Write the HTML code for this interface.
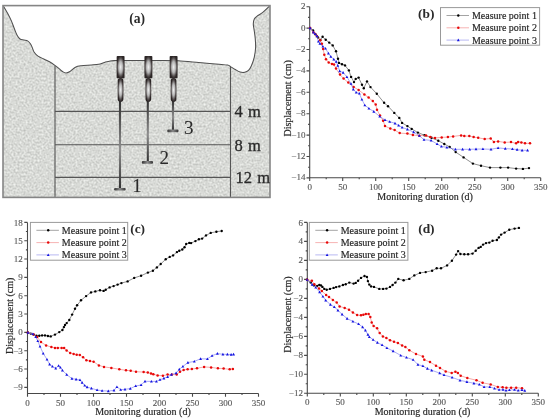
<!DOCTYPE html>
<html><head><meta charset="utf-8"><title>Figure</title>
<style>html,body{margin:0;padding:0;background:#fff;width:550px;height:420px;overflow:hidden}svg{display:block;filter:blur(0.35px)}</style></head>
<body><svg width="550" height="420" viewBox="0 0 550 420" font-family="Liberation Serif, serif">
<defs><radialGradient id="hd" cx="50%" cy="50%" r="50%"><stop offset="0" stop-color="#f0f0f0"/><stop offset="0.5" stop-color="#b4b4b4"/><stop offset="0.82" stop-color="#524c4c"/><stop offset="1" stop-color="#2c2626"/></radialGradient><linearGradient id="rod" x1="0" y1="0" x2="0" y2="1"><stop offset="0" stop-color="#303030"/><stop offset="0.2" stop-color="#505050"/><stop offset="0.55" stop-color="#8e8e8e"/><stop offset="0.88" stop-color="#484848"/><stop offset="1" stop-color="#303030"/></linearGradient><linearGradient id="tb" x1="0" y1="0" x2="1" y2="0"><stop offset="0" stop-color="#333"/><stop offset="0.5" stop-color="#8a8a8a"/><stop offset="1" stop-color="#333"/></linearGradient><filter id="tex" x="0" y="0" width="100%" height="100%" color-interpolation-filters="sRGB"><feTurbulence type="fractalNoise" baseFrequency="0.5" numOctaves="2" seed="7"/><feColorMatrix type="matrix" values="0.3 0 0 0 0.697  0.3 0 0 0 0.704  0.3 0 0 0 0.690  0 0 0 0 1"/></filter><clipPath id="gclip"><path d="M3.4,6.1 C4.1,7.3 6.27,10.83 7.6,13.3 C8.93,15.77 10.28,18.37 11.4,20.9 C12.52,23.43 13.35,26.12 14.3,28.5 C15.25,30.88 16.15,33.45 17.1,35.2 C18.05,36.95 18.88,38.2 20,39 C21.12,39.8 22.53,39.68 23.8,40 C25.07,40.32 26.5,40.27 27.6,40.9 C28.7,41.53 29.62,42.68 30.4,43.8 C31.18,44.92 31.67,46.18 32.3,47.6 C32.93,49.02 33.25,50.88 34.2,52.3 C35.15,53.72 36.4,54.98 38,56.1 C39.6,57.22 41.88,58.05 43.8,59 C45.72,59.95 47.6,60.7 49.5,61.8 C51.4,62.9 53.55,64.42 55.2,65.6 C56.85,66.78 58.18,67.92 59.4,68.9 C60.62,69.88 61.42,70.82 62.5,71.5 C63.58,72.18 64.73,72.95 65.9,73 C67.07,73.05 67.92,72.77 69.5,71.8 C71.08,70.83 73.45,68.22 75.4,67.2 C77.35,66.18 78.53,66.07 81.2,65.7 C83.87,65.33 88.5,65.23 91.4,65 C94.3,64.77 96.42,64.73 98.6,64.3 C100.78,63.87 102.55,62.97 104.5,62.4 C106.45,61.83 108.38,61.2 110.3,60.9 C112.22,60.6 111.88,60.67 116,60.6 C120.12,60.53 127.6,60.53 135,60.5 C142.4,60.47 153.18,60.37 160.4,60.4 C167.62,60.43 171.93,60.35 178.3,60.7 C184.67,61.05 193.4,62.05 198.6,62.5 C203.8,62.95 206.1,63.12 209.5,63.4 C212.9,63.68 215.98,63.92 219,64.2 C222.02,64.48 225.68,64.7 227.6,65.1 C229.52,65.5 229.23,65.87 230.5,66.6 C231.77,67.33 233.62,68.6 235.2,69.5 C236.78,70.4 238.42,71.53 240,72 C241.58,72.47 243.28,72.57 244.7,72.3 C246.12,72.03 247.38,71.5 248.5,70.4 C249.62,69.3 250.43,67.92 251.4,65.7 C252.37,63.48 253.6,60.12 254.3,57.1 C255,54.08 255.45,50.77 255.6,47.6 C255.75,44.43 255.48,41.27 255.2,38.1 C254.92,34.93 254.22,30.98 253.9,28.6 C253.58,26.22 253.23,25.4 253.3,23.8 C253.37,22.2 253.67,20.27 254.3,19 C254.93,17.73 255.68,17.3 257.1,16.2 C258.52,15.1 260.73,14.08 262.8,12.4 C264.87,10.72 268.38,7.15 269.5,6.1 L270,6 L270,197 L3,197 Z"/></clipPath></defs>
<path d="M3.4,6.1 C4.1,7.3 6.27,10.83 7.6,13.3 C8.93,15.77 10.28,18.37 11.4,20.9 C12.52,23.43 13.35,26.12 14.3,28.5 C15.25,30.88 16.15,33.45 17.1,35.2 C18.05,36.95 18.88,38.2 20,39 C21.12,39.8 22.53,39.68 23.8,40 C25.07,40.32 26.5,40.27 27.6,40.9 C28.7,41.53 29.62,42.68 30.4,43.8 C31.18,44.92 31.67,46.18 32.3,47.6 C32.93,49.02 33.25,50.88 34.2,52.3 C35.15,53.72 36.4,54.98 38,56.1 C39.6,57.22 41.88,58.05 43.8,59 C45.72,59.95 47.6,60.7 49.5,61.8 C51.4,62.9 53.55,64.42 55.2,65.6 C56.85,66.78 58.18,67.92 59.4,68.9 C60.62,69.88 61.42,70.82 62.5,71.5 C63.58,72.18 64.73,72.95 65.9,73 C67.07,73.05 67.92,72.77 69.5,71.8 C71.08,70.83 73.45,68.22 75.4,67.2 C77.35,66.18 78.53,66.07 81.2,65.7 C83.87,65.33 88.5,65.23 91.4,65 C94.3,64.77 96.42,64.73 98.6,64.3 C100.78,63.87 102.55,62.97 104.5,62.4 C106.45,61.83 108.38,61.2 110.3,60.9 C112.22,60.6 111.88,60.67 116,60.6 C120.12,60.53 127.6,60.53 135,60.5 C142.4,60.47 153.18,60.37 160.4,60.4 C167.62,60.43 171.93,60.35 178.3,60.7 C184.67,61.05 193.4,62.05 198.6,62.5 C203.8,62.95 206.1,63.12 209.5,63.4 C212.9,63.68 215.98,63.92 219,64.2 C222.02,64.48 225.68,64.7 227.6,65.1 C229.52,65.5 229.23,65.87 230.5,66.6 C231.77,67.33 233.62,68.6 235.2,69.5 C236.78,70.4 238.42,71.53 240,72 C241.58,72.47 243.28,72.57 244.7,72.3 C246.12,72.03 247.38,71.5 248.5,70.4 C249.62,69.3 250.43,67.92 251.4,65.7 C252.37,63.48 253.6,60.12 254.3,57.1 C255,54.08 255.45,50.77 255.6,47.6 C255.75,44.43 255.48,41.27 255.2,38.1 C254.92,34.93 254.22,30.98 253.9,28.6 C253.58,26.22 253.23,25.4 253.3,23.8 C253.37,22.2 253.67,20.27 254.3,19 C254.93,17.73 255.68,17.3 257.1,16.2 C258.52,15.1 260.73,14.08 262.8,12.4 C264.87,10.72 268.38,7.15 269.5,6.1 L270,6 L270,197 L3,197 Z" fill="#d4d4d2"/>
<rect x="3" y="5" width="268" height="193" filter="url(#tex)" clip-path="url(#gclip)"/>
<g stroke="#555" stroke-width="1.1" fill="none">
<path d="M55,65.8 V197 M230.5,66.6 V197"/>
<path d="M55,111.4 H230.5 M55,144.8 H230.5 M55,177.4 H230.5"/>
</g>
<path d="M3.4,6.1 C4.1,7.3 6.27,10.83 7.6,13.3 C8.93,15.77 10.28,18.37 11.4,20.9 C12.52,23.43 13.35,26.12 14.3,28.5 C15.25,30.88 16.15,33.45 17.1,35.2 C18.05,36.95 18.88,38.2 20,39 C21.12,39.8 22.53,39.68 23.8,40 C25.07,40.32 26.5,40.27 27.6,40.9 C28.7,41.53 29.62,42.68 30.4,43.8 C31.18,44.92 31.67,46.18 32.3,47.6 C32.93,49.02 33.25,50.88 34.2,52.3 C35.15,53.72 36.4,54.98 38,56.1 C39.6,57.22 41.88,58.05 43.8,59 C45.72,59.95 47.6,60.7 49.5,61.8 C51.4,62.9 53.55,64.42 55.2,65.6 C56.85,66.78 58.18,67.92 59.4,68.9 C60.62,69.88 61.42,70.82 62.5,71.5 C63.58,72.18 64.73,72.95 65.9,73 C67.07,73.05 67.92,72.77 69.5,71.8 C71.08,70.83 73.45,68.22 75.4,67.2 C77.35,66.18 78.53,66.07 81.2,65.7 C83.87,65.33 88.5,65.23 91.4,65 C94.3,64.77 96.42,64.73 98.6,64.3 C100.78,63.87 102.55,62.97 104.5,62.4 C106.45,61.83 108.38,61.2 110.3,60.9 C112.22,60.6 111.88,60.67 116,60.6 C120.12,60.53 127.6,60.53 135,60.5 C142.4,60.47 153.18,60.37 160.4,60.4 C167.62,60.43 171.93,60.35 178.3,60.7 C184.67,61.05 193.4,62.05 198.6,62.5 C203.8,62.95 206.1,63.12 209.5,63.4 C212.9,63.68 215.98,63.92 219,64.2 C222.02,64.48 225.68,64.7 227.6,65.1 C229.52,65.5 229.23,65.87 230.5,66.6 C231.77,67.33 233.62,68.6 235.2,69.5 C236.78,70.4 238.42,71.53 240,72 C241.58,72.47 243.28,72.57 244.7,72.3 C246.12,72.03 247.38,71.5 248.5,70.4 C249.62,69.3 250.43,67.92 251.4,65.7 C252.37,63.48 253.6,60.12 254.3,57.1 C255,54.08 255.45,50.77 255.6,47.6 C255.75,44.43 255.48,41.27 255.2,38.1 C254.92,34.93 254.22,30.98 253.9,28.6 C253.58,26.22 253.23,25.4 253.3,23.8 C253.37,22.2 253.67,20.27 254.3,19 C254.93,17.73 255.68,17.3 257.1,16.2 C258.52,15.1 260.73,14.08 262.8,12.4 C264.87,10.72 268.38,7.15 269.5,6.1" fill="none" stroke="#505050" stroke-width="1.05"/>
<rect x="3" y="5.6" width="267" height="191.8" fill="none" stroke="#858585" stroke-width="1.6"/>
<rect x="118.95" y="100" width="2.1" height="89.2" fill="url(#rod)"/>
<rect x="114.1" y="187.9" width="11.5" height="2.6" rx="1" fill="url(#tb)"/>
<rect x="117.7" y="78" width="5.7" height="23.7" rx="2.8" fill="url(#hd)"/>
<rect x="116.65" y="55.9" width="7.9" height="22.4" rx="0.8" fill="url(#hd)"/>
<rect x="146.75" y="100" width="2.1" height="62.4" fill="url(#rod)"/>
<rect x="141.9" y="161.1" width="11.1" height="2.6" rx="1" fill="url(#tb)"/>
<rect x="145.5" y="78" width="5.7" height="23.7" rx="2.8" fill="url(#hd)"/>
<rect x="144.45" y="55.9" width="7.9" height="22.4" rx="0.8" fill="url(#hd)"/>
<rect x="171.95" y="100" width="2.1" height="30.9" fill="url(#rod)"/>
<rect x="167.3" y="129.6" width="11.2" height="2.6" rx="1" fill="url(#tb)"/>
<rect x="170.7" y="78" width="5.7" height="23.7" rx="2.8" fill="url(#hd)"/>
<rect x="169.65" y="55.9" width="7.9" height="22.4" rx="0.8" fill="url(#hd)"/>
<g font-size="19" fill="#2a2a2a" stroke="#2a2a2a" stroke-width="0.1">
<text x="132.2" y="192.2">1</text>
<text x="159.6" y="164.1">2</text>
<text x="183.9" y="133.6">3</text>
</g>
<g font-size="16.5" fill="#2a2a2a" stroke="#2a2a2a" stroke-width="0.3" word-spacing="1">
<text x="234.6" y="117">4 m</text>
<text x="234.6" y="150.5">8 m</text>
<text x="235.6" y="182.8">12 m</text>
</g>
<text x="129.2" y="22.9" font-size="13.6" font-weight="bold" fill="#2a2a2a">(a)</text>
<g stroke="#484848" stroke-width="1.1" fill="none">
<path d="M309.7,6.7 V177.7 H540.7"/>
<path d="M309.7,6.7 h-3.2 M309.7,17.4 h-1.6 M309.7,28.1 h-3.2 M309.7,38.8 h-1.6 M309.7,49.5 h-3.2 M309.7,60.2 h-1.6 M309.7,70.9 h-3.2 M309.7,81.6 h-1.6 M309.7,92.3 h-3.2 M309.7,103 h-1.6 M309.7,113.7 h-3.2 M309.7,124.4 h-1.6 M309.7,135.1 h-3.2 M309.7,145.8 h-1.6 M309.7,156.5 h-3.2 M309.7,167.2 h-1.6 M309.7,177.9 h-3.2 M309.7,177.7 v3.2 M326.2,177.7 v1.6 M342.7,177.7 v3.2 M359.2,177.7 v1.6 M375.7,177.7 v3.2 M392.2,177.7 v1.6 M408.7,177.7 v3.2 M425.2,177.7 v1.6 M441.7,177.7 v3.2 M458.2,177.7 v1.6 M474.7,177.7 v3.2 M491.2,177.7 v1.6 M507.7,177.7 v3.2 M524.2,177.7 v1.6 M540.7,177.7 v3.2"/>
</g>
<g font-size="9" fill="#5a5a5a" stroke="#5a5a5a" stroke-width="0.15" font-family="Liberation Serif">
<text x="305.4" y="9.2" text-anchor="end">2</text>
<text x="305.4" y="30.6" text-anchor="end">0</text>
<text x="305.4" y="52" text-anchor="end">−2</text>
<text x="305.4" y="73.4" text-anchor="end">−4</text>
<text x="305.4" y="94.8" text-anchor="end">−6</text>
<text x="305.4" y="116.2" text-anchor="end">−8</text>
<text x="305.4" y="137.6" text-anchor="end">−10</text>
<text x="305.4" y="159" text-anchor="end">−12</text>
<text x="305.4" y="180.4" text-anchor="end">−14</text>
<text x="309.7" y="190.3" text-anchor="middle">0</text>
<text x="342.7" y="190.3" text-anchor="middle">50</text>
<text x="375.7" y="190.3" text-anchor="middle">100</text>
<text x="408.7" y="190.3" text-anchor="middle">150</text>
<text x="441.7" y="190.3" text-anchor="middle">200</text>
<text x="474.7" y="190.3" text-anchor="middle">250</text>
<text x="507.7" y="190.3" text-anchor="middle">300</text>
<text x="540.7" y="190.3" text-anchor="middle">350</text>
</g>
<text transform="translate(290.6,98.4) rotate(-90)" text-anchor="middle" font-size="10" fill="#2a2a2a" stroke="#2a2a2a" stroke-width="0.2">Displacement (cm)</text>
<text x="425.1" y="199.5" text-anchor="middle" font-size="10" fill="#2a2a2a" stroke="#2a2a2a" stroke-width="0.2">Monitoring duration (d)</text>
<polyline points="310.1,28.1 313.1,30.5 315.4,34.3 318,37.5 320.3,40 322.6,36.8 325.7,39.7 329.2,42.6 332.7,45.4 336,51.3 338,58.8 339,62.9 342,64.2 345,65.4 348.9,70.4 351.1,76.9 354,82.1 355.7,78.9 358.6,77.6 362,84.8 363.8,88.2 367,81.4 370.5,87.1 376.8,93.8 384.1,102.8 388,106.2 394.3,112.9 399.3,117.9 402.1,122.9 407.4,126.1 411.7,128.9 417.9,132.6 424.5,135.2 431.5,137.8 438.3,140.7 444.3,144 449.7,146.9 455.7,152.1 463.6,157.4 472.9,163.6 481,165.7 490,167.6 500.4,167.6 508.1,167.6 516.1,168.6 522.9,168.9 529,168.1" fill="none" stroke="#444" stroke-width="0.6" stroke-linejoin="round"/><circle cx="310.1" cy="28.1" r="1.2" fill="#000"/><circle cx="313.1" cy="30.5" r="1.2" fill="#000"/><circle cx="315.4" cy="34.3" r="1.2" fill="#000"/><circle cx="318" cy="37.5" r="1.2" fill="#000"/><circle cx="320.3" cy="40" r="1.2" fill="#000"/><circle cx="322.6" cy="36.8" r="1.2" fill="#000"/><circle cx="325.7" cy="39.7" r="1.2" fill="#000"/><circle cx="329.2" cy="42.6" r="1.2" fill="#000"/><circle cx="332.7" cy="45.4" r="1.2" fill="#000"/><circle cx="336" cy="51.3" r="1.2" fill="#000"/><circle cx="338" cy="58.8" r="1.2" fill="#000"/><circle cx="339" cy="62.9" r="1.2" fill="#000"/><circle cx="342" cy="64.2" r="1.2" fill="#000"/><circle cx="345" cy="65.4" r="1.2" fill="#000"/><circle cx="348.9" cy="70.4" r="1.2" fill="#000"/><circle cx="351.1" cy="76.9" r="1.2" fill="#000"/><circle cx="354" cy="82.1" r="1.2" fill="#000"/><circle cx="355.7" cy="78.9" r="1.2" fill="#000"/><circle cx="358.6" cy="77.6" r="1.2" fill="#000"/><circle cx="362" cy="84.8" r="1.2" fill="#000"/><circle cx="363.8" cy="88.2" r="1.2" fill="#000"/><circle cx="367" cy="81.4" r="1.2" fill="#000"/><circle cx="370.5" cy="87.1" r="1.2" fill="#000"/><circle cx="376.8" cy="93.8" r="1.2" fill="#000"/><circle cx="384.1" cy="102.8" r="1.2" fill="#000"/><circle cx="388" cy="106.2" r="1.2" fill="#000"/><circle cx="394.3" cy="112.9" r="1.2" fill="#000"/><circle cx="399.3" cy="117.9" r="1.2" fill="#000"/><circle cx="402.1" cy="122.9" r="1.2" fill="#000"/><circle cx="407.4" cy="126.1" r="1.2" fill="#000"/><circle cx="411.7" cy="128.9" r="1.2" fill="#000"/><circle cx="417.9" cy="132.6" r="1.2" fill="#000"/><circle cx="424.5" cy="135.2" r="1.2" fill="#000"/><circle cx="431.5" cy="137.8" r="1.2" fill="#000"/><circle cx="438.3" cy="140.7" r="1.2" fill="#000"/><circle cx="444.3" cy="144" r="1.2" fill="#000"/><circle cx="449.7" cy="146.9" r="1.2" fill="#000"/><circle cx="455.7" cy="152.1" r="1.2" fill="#000"/><circle cx="463.6" cy="157.4" r="1.2" fill="#000"/><circle cx="472.9" cy="163.6" r="1.2" fill="#000"/><circle cx="481" cy="165.7" r="1.2" fill="#000"/><circle cx="490" cy="167.6" r="1.2" fill="#000"/><circle cx="500.4" cy="167.6" r="1.2" fill="#000"/><circle cx="508.1" cy="167.6" r="1.2" fill="#000"/><circle cx="516.1" cy="168.6" r="1.2" fill="#000"/><circle cx="522.9" cy="168.9" r="1.2" fill="#000"/><circle cx="529" cy="168.1" r="1.2" fill="#000"/>
<polyline points="310.1,28.1 313.4,32.3 315.1,34 316.9,36.1 320.2,40.3 321.9,43.8 323.1,49 324.3,54.8 326,59.3 328.7,62.5 332,64.1 334,64.6 336,68.6 340,74.6 343.6,78.6 348.3,82.6 353.6,86.9 358.6,90 364.4,94.4 368.6,97.6 372.8,101.1 375.7,104.6 377,109.7 380,115.5 383.1,120.7 385,126 390.3,128.6 394.6,130 399.7,133.1 407.4,133.6 412.9,135 419.3,135.7 426,135.4 430.3,137.1 435,137.9 441.7,137.4 447.9,137.1 453.1,136.4 461.1,135.4 464.3,136.1 469.3,136.1 473.6,137.1 478.2,137.8 484.7,139 490.7,138.6 493.9,141.9 498.1,141.4 504.7,142.4 511,142.1 516.1,143.3 518.1,141.9 521.4,142.4 525,143.3 530,143.3" fill="none" stroke="#f07070" stroke-width="0.6" stroke-linejoin="round"/><circle cx="310.1" cy="28.1" r="1.25" fill="#e80808"/><circle cx="313.4" cy="32.3" r="1.25" fill="#e80808"/><circle cx="315.1" cy="34" r="1.25" fill="#e80808"/><circle cx="316.9" cy="36.1" r="1.25" fill="#e80808"/><circle cx="320.2" cy="40.3" r="1.25" fill="#e80808"/><circle cx="321.9" cy="43.8" r="1.25" fill="#e80808"/><circle cx="323.1" cy="49" r="1.25" fill="#e80808"/><circle cx="324.3" cy="54.8" r="1.25" fill="#e80808"/><circle cx="326" cy="59.3" r="1.25" fill="#e80808"/><circle cx="328.7" cy="62.5" r="1.25" fill="#e80808"/><circle cx="332" cy="64.1" r="1.25" fill="#e80808"/><circle cx="334" cy="64.6" r="1.25" fill="#e80808"/><circle cx="336" cy="68.6" r="1.25" fill="#e80808"/><circle cx="340" cy="74.6" r="1.25" fill="#e80808"/><circle cx="343.6" cy="78.6" r="1.25" fill="#e80808"/><circle cx="348.3" cy="82.6" r="1.25" fill="#e80808"/><circle cx="353.6" cy="86.9" r="1.25" fill="#e80808"/><circle cx="358.6" cy="90" r="1.25" fill="#e80808"/><circle cx="364.4" cy="94.4" r="1.25" fill="#e80808"/><circle cx="368.6" cy="97.6" r="1.25" fill="#e80808"/><circle cx="372.8" cy="101.1" r="1.25" fill="#e80808"/><circle cx="375.7" cy="104.6" r="1.25" fill="#e80808"/><circle cx="377" cy="109.7" r="1.25" fill="#e80808"/><circle cx="380" cy="115.5" r="1.25" fill="#e80808"/><circle cx="383.1" cy="120.7" r="1.25" fill="#e80808"/><circle cx="385" cy="126" r="1.25" fill="#e80808"/><circle cx="390.3" cy="128.6" r="1.25" fill="#e80808"/><circle cx="394.6" cy="130" r="1.25" fill="#e80808"/><circle cx="399.7" cy="133.1" r="1.25" fill="#e80808"/><circle cx="407.4" cy="133.6" r="1.25" fill="#e80808"/><circle cx="412.9" cy="135" r="1.25" fill="#e80808"/><circle cx="419.3" cy="135.7" r="1.25" fill="#e80808"/><circle cx="426" cy="135.4" r="1.25" fill="#e80808"/><circle cx="430.3" cy="137.1" r="1.25" fill="#e80808"/><circle cx="435" cy="137.9" r="1.25" fill="#e80808"/><circle cx="441.7" cy="137.4" r="1.25" fill="#e80808"/><circle cx="447.9" cy="137.1" r="1.25" fill="#e80808"/><circle cx="453.1" cy="136.4" r="1.25" fill="#e80808"/><circle cx="461.1" cy="135.4" r="1.25" fill="#e80808"/><circle cx="464.3" cy="136.1" r="1.25" fill="#e80808"/><circle cx="469.3" cy="136.1" r="1.25" fill="#e80808"/><circle cx="473.6" cy="137.1" r="1.25" fill="#e80808"/><circle cx="478.2" cy="137.8" r="1.25" fill="#e80808"/><circle cx="484.7" cy="139" r="1.25" fill="#e80808"/><circle cx="490.7" cy="138.6" r="1.25" fill="#e80808"/><circle cx="493.9" cy="141.9" r="1.25" fill="#e80808"/><circle cx="498.1" cy="141.4" r="1.25" fill="#e80808"/><circle cx="504.7" cy="142.4" r="1.25" fill="#e80808"/><circle cx="511" cy="142.1" r="1.25" fill="#e80808"/><circle cx="516.1" cy="143.3" r="1.25" fill="#e80808"/><circle cx="518.1" cy="141.9" r="1.25" fill="#e80808"/><circle cx="521.4" cy="142.4" r="1.25" fill="#e80808"/><circle cx="525" cy="143.3" r="1.25" fill="#e80808"/><circle cx="530" cy="143.3" r="1.25" fill="#e80808"/>
<polyline points="310.1,28.1 313.4,32.3 315.1,34 316.9,36.1 318.4,41.5 319.9,43.6 322.9,46.5 325.5,48.5 328.4,53.3 330.8,56.6 333.8,59.3 336.2,61.6 337.8,65.6 339.7,71.1 343.1,72.6 346.9,76.9 351,83.7 353.3,89.3 356.2,92.4 359.3,93.4 361.9,99.5 364.8,105.2 368.9,108.4 373.8,111.6 379.7,116.4 385,120 389.7,121.7 395,123.3 398.6,125.4 402.1,127.4 407.4,129.3 413.6,132.1 419.3,135.7 424,139.7 431.1,140.4 437.1,144 441.4,146.4 446.9,147.4 455.4,149.3 462.6,149.3 469.7,149.3 476,149.1 482.9,149 491,149.3 498.1,147.9 505.3,148.6 512.4,149 517.1,149.6 522.1,150.3 527.6,150.3" fill="none" stroke="#7070f0" stroke-width="0.6" stroke-linejoin="round"/><path d="M310.1,26.6 L311.53,29.23 L308.68,29.23 Z" fill="#1414e0"/><path d="M313.4,30.8 L314.82,33.42 L311.97,33.42 Z" fill="#1414e0"/><path d="M315.1,32.5 L316.53,35.12 L313.68,35.12 Z" fill="#1414e0"/><path d="M316.9,34.6 L318.32,37.23 L315.47,37.23 Z" fill="#1414e0"/><path d="M318.4,40 L319.82,42.62 L316.97,42.62 Z" fill="#1414e0"/><path d="M319.9,42.1 L321.32,44.73 L318.47,44.73 Z" fill="#1414e0"/><path d="M322.9,45 L324.32,47.62 L321.47,47.62 Z" fill="#1414e0"/><path d="M325.5,47 L326.93,49.62 L324.07,49.62 Z" fill="#1414e0"/><path d="M328.4,51.8 L329.82,54.42 L326.97,54.42 Z" fill="#1414e0"/><path d="M330.8,55.1 L332.23,57.73 L329.38,57.73 Z" fill="#1414e0"/><path d="M333.8,57.8 L335.23,60.42 L332.38,60.42 Z" fill="#1414e0"/><path d="M336.2,60.1 L337.62,62.73 L334.77,62.73 Z" fill="#1414e0"/><path d="M337.8,64.1 L339.23,66.72 L336.38,66.72 Z" fill="#1414e0"/><path d="M339.7,69.6 L341.12,72.22 L338.27,72.22 Z" fill="#1414e0"/><path d="M343.1,71.1 L344.53,73.72 L341.68,73.72 Z" fill="#1414e0"/><path d="M346.9,75.4 L348.32,78.03 L345.47,78.03 Z" fill="#1414e0"/><path d="M351,82.2 L352.43,84.83 L349.57,84.83 Z" fill="#1414e0"/><path d="M353.3,87.8 L354.73,90.42 L351.88,90.42 Z" fill="#1414e0"/><path d="M356.2,90.9 L357.62,93.53 L354.77,93.53 Z" fill="#1414e0"/><path d="M359.3,91.9 L360.73,94.53 L357.88,94.53 Z" fill="#1414e0"/><path d="M361.9,98 L363.32,100.62 L360.47,100.62 Z" fill="#1414e0"/><path d="M364.8,103.7 L366.23,106.33 L363.38,106.33 Z" fill="#1414e0"/><path d="M368.9,106.9 L370.32,109.53 L367.47,109.53 Z" fill="#1414e0"/><path d="M373.8,110.1 L375.23,112.72 L372.38,112.72 Z" fill="#1414e0"/><path d="M379.7,114.9 L381.12,117.53 L378.27,117.53 Z" fill="#1414e0"/><path d="M385,118.5 L386.43,121.12 L383.57,121.12 Z" fill="#1414e0"/><path d="M389.7,120.2 L391.12,122.83 L388.27,122.83 Z" fill="#1414e0"/><path d="M395,121.8 L396.43,124.42 L393.57,124.42 Z" fill="#1414e0"/><path d="M398.6,123.9 L400.03,126.53 L397.18,126.53 Z" fill="#1414e0"/><path d="M402.1,125.9 L403.53,128.53 L400.68,128.53 Z" fill="#1414e0"/><path d="M407.4,127.8 L408.82,130.43 L405.97,130.43 Z" fill="#1414e0"/><path d="M413.6,130.6 L415.03,133.22 L412.18,133.22 Z" fill="#1414e0"/><path d="M419.3,134.2 L420.73,136.82 L417.88,136.82 Z" fill="#1414e0"/><path d="M424,138.2 L425.43,140.82 L422.57,140.82 Z" fill="#1414e0"/><path d="M431.1,138.9 L432.53,141.53 L429.68,141.53 Z" fill="#1414e0"/><path d="M437.1,142.5 L438.53,145.12 L435.68,145.12 Z" fill="#1414e0"/><path d="M441.4,144.9 L442.82,147.53 L439.97,147.53 Z" fill="#1414e0"/><path d="M446.9,145.9 L448.32,148.53 L445.47,148.53 Z" fill="#1414e0"/><path d="M455.4,147.8 L456.82,150.43 L453.97,150.43 Z" fill="#1414e0"/><path d="M462.6,147.8 L464.03,150.43 L461.18,150.43 Z" fill="#1414e0"/><path d="M469.7,147.8 L471.12,150.43 L468.27,150.43 Z" fill="#1414e0"/><path d="M476,147.6 L477.43,150.22 L474.57,150.22 Z" fill="#1414e0"/><path d="M482.9,147.5 L484.32,150.12 L481.47,150.12 Z" fill="#1414e0"/><path d="M491,147.8 L492.43,150.43 L489.57,150.43 Z" fill="#1414e0"/><path d="M498.1,146.4 L499.53,149.03 L496.68,149.03 Z" fill="#1414e0"/><path d="M505.3,147.1 L506.73,149.72 L503.88,149.72 Z" fill="#1414e0"/><path d="M512.4,147.5 L513.82,150.12 L510.97,150.12 Z" fill="#1414e0"/><path d="M517.1,148.1 L518.52,150.72 L515.68,150.72 Z" fill="#1414e0"/><path d="M522.1,148.8 L523.52,151.43 L520.68,151.43 Z" fill="#1414e0"/><path d="M527.6,148.8 L529.02,151.43 L526.18,151.43 Z" fill="#1414e0"/>
<rect x="440.5" y="7.6" width="99.1" height="37.6" fill="#fff" stroke="#999" stroke-width="1"/>
<line x1="446.5" y1="15.5" x2="469" y2="15.5" stroke="#666" stroke-width="0.6"/>
<circle cx="458.3" cy="15.5" r="1.2" fill="#000"/>
<text x="471.9" y="18.9" font-size="10" fill="#2a2a2a" stroke="#2a2a2a" stroke-width="0.2">Measure point 1</text>
<line x1="446.5" y1="27.8" x2="469" y2="27.8" stroke="#f08080" stroke-width="0.6"/>
<circle cx="458.3" cy="27.8" r="1.25" fill="#e80808"/>
<text x="471.9" y="31.2" font-size="10" fill="#2a2a2a" stroke="#2a2a2a" stroke-width="0.2">Measure point 2</text>
<line x1="446.5" y1="40.1" x2="469" y2="40.1" stroke="#8888e8" stroke-width="0.6"/>
<path d="M458.3,38.6 L459.73,41.23 L456.88,41.23 Z" fill="#1414e0"/>
<text x="471.9" y="43.5" font-size="10" fill="#2a2a2a" stroke="#2a2a2a" stroke-width="0.2">Measure point 3</text>
<text x="418" y="18.4" font-size="13.4" font-weight="bold" fill="#2a2a2a">(b)</text>
<g stroke="#484848" stroke-width="1.1" fill="none">
<path d="M27.5,222.4 V393.5 H258.5"/>
<path d="M27.5,222.4 h-3.2 M27.5,231.56 h-1.6 M27.5,240.73 h-3.2 M27.5,249.9 h-1.6 M27.5,259.06 h-3.2 M27.5,268.23 h-1.6 M27.5,277.39 h-3.2 M27.5,286.56 h-1.6 M27.5,295.72 h-3.2 M27.5,304.88 h-1.6 M27.5,314.05 h-3.2 M27.5,323.22 h-1.6 M27.5,332.38 h-3.2 M27.5,341.55 h-1.6 M27.5,350.71 h-3.2 M27.5,359.88 h-1.6 M27.5,369.04 h-3.2 M27.5,378.21 h-1.6 M27.5,387.37 h-3.2 M27.5,393.5 v3.2 M44,393.5 v1.6 M60.5,393.5 v3.2 M77,393.5 v1.6 M93.5,393.5 v3.2 M110,393.5 v1.6 M126.5,393.5 v3.2 M143,393.5 v1.6 M159.5,393.5 v3.2 M176,393.5 v1.6 M192.5,393.5 v3.2 M209,393.5 v1.6 M225.5,393.5 v3.2 M242,393.5 v1.6 M258.5,393.5 v3.2"/>
</g>
<g font-size="9" fill="#5a5a5a" stroke="#5a5a5a" stroke-width="0.15" font-family="Liberation Serif">
<text x="22.8" y="225.5" text-anchor="end">18</text>
<text x="22.8" y="243.83" text-anchor="end">15</text>
<text x="22.8" y="262.16" text-anchor="end">12</text>
<text x="22.8" y="280.49" text-anchor="end">9</text>
<text x="22.8" y="298.82" text-anchor="end">6</text>
<text x="22.8" y="317.15" text-anchor="end">3</text>
<text x="22.8" y="335.48" text-anchor="end">0</text>
<text x="22.8" y="353.81" text-anchor="end">−3</text>
<text x="22.8" y="372.14" text-anchor="end">−6</text>
<text x="22.8" y="390.47" text-anchor="end">−9</text>
<text x="27.5" y="405.5" text-anchor="middle">0</text>
<text x="60.5" y="405.5" text-anchor="middle">50</text>
<text x="93.5" y="405.5" text-anchor="middle">100</text>
<text x="126.5" y="405.5" text-anchor="middle">150</text>
<text x="159.5" y="405.5" text-anchor="middle">200</text>
<text x="192.5" y="405.5" text-anchor="middle">250</text>
<text x="225.5" y="405.5" text-anchor="middle">300</text>
<text x="258.5" y="405.5" text-anchor="middle">350</text>
</g>
<text transform="translate(13.1,315.9) rotate(-90)" text-anchor="middle" font-size="10" fill="#2a2a2a" stroke="#2a2a2a" stroke-width="0.2">Displacement (cm)</text>
<text x="143" y="415" text-anchor="middle" font-size="10" fill="#2a2a2a" stroke="#2a2a2a" stroke-width="0.2">Monitoring duration (d)</text>
<polyline points="27.9,332.6 30.8,333.6 33.6,334.6 36.4,335.7 39.3,335.7 42.1,335.4 45,335.4 47.9,336 50.7,336.4 55,334.6 59.3,332.1 62.4,330 63.9,327.1 65,325 66.7,323.1 69.3,320 72.1,314.6 75,308.8 77.1,305.3 81,300.3 86.1,296.1 91,292.4 95.3,291.4 100,290.3 103.6,290.9 105.7,289.7 109.6,287.4 113.6,286.1 117.6,284.6 121.4,283.1 127.6,281.4 134.2,277.9 141.1,275.7 147.9,272.6 152.9,270.7 156.9,267.4 160.7,264 165.7,259.3 169.7,256.9 173.1,255.4 176.9,252.1 179.3,250.7 182.3,249.5 184.5,247.2 186.2,244 189.3,242.9 191.1,243.1 195.4,241.1 198.9,239.3 202.1,238.6 206,235.4 210.7,232.9 216.4,231.7 221.7,231" fill="none" stroke="#444" stroke-width="0.6" stroke-linejoin="round"/><circle cx="27.9" cy="332.6" r="1.2" fill="#000"/><circle cx="30.8" cy="333.6" r="1.2" fill="#000"/><circle cx="33.6" cy="334.6" r="1.2" fill="#000"/><circle cx="36.4" cy="335.7" r="1.2" fill="#000"/><circle cx="39.3" cy="335.7" r="1.2" fill="#000"/><circle cx="42.1" cy="335.4" r="1.2" fill="#000"/><circle cx="45" cy="335.4" r="1.2" fill="#000"/><circle cx="47.9" cy="336" r="1.2" fill="#000"/><circle cx="50.7" cy="336.4" r="1.2" fill="#000"/><circle cx="55" cy="334.6" r="1.2" fill="#000"/><circle cx="59.3" cy="332.1" r="1.2" fill="#000"/><circle cx="62.4" cy="330" r="1.2" fill="#000"/><circle cx="63.9" cy="327.1" r="1.2" fill="#000"/><circle cx="65" cy="325" r="1.2" fill="#000"/><circle cx="66.7" cy="323.1" r="1.2" fill="#000"/><circle cx="69.3" cy="320" r="1.2" fill="#000"/><circle cx="72.1" cy="314.6" r="1.2" fill="#000"/><circle cx="75" cy="308.8" r="1.2" fill="#000"/><circle cx="77.1" cy="305.3" r="1.2" fill="#000"/><circle cx="81" cy="300.3" r="1.2" fill="#000"/><circle cx="86.1" cy="296.1" r="1.2" fill="#000"/><circle cx="91" cy="292.4" r="1.2" fill="#000"/><circle cx="95.3" cy="291.4" r="1.2" fill="#000"/><circle cx="100" cy="290.3" r="1.2" fill="#000"/><circle cx="103.6" cy="290.9" r="1.2" fill="#000"/><circle cx="105.7" cy="289.7" r="1.2" fill="#000"/><circle cx="109.6" cy="287.4" r="1.2" fill="#000"/><circle cx="113.6" cy="286.1" r="1.2" fill="#000"/><circle cx="117.6" cy="284.6" r="1.2" fill="#000"/><circle cx="121.4" cy="283.1" r="1.2" fill="#000"/><circle cx="127.6" cy="281.4" r="1.2" fill="#000"/><circle cx="134.2" cy="277.9" r="1.2" fill="#000"/><circle cx="141.1" cy="275.7" r="1.2" fill="#000"/><circle cx="147.9" cy="272.6" r="1.2" fill="#000"/><circle cx="152.9" cy="270.7" r="1.2" fill="#000"/><circle cx="156.9" cy="267.4" r="1.2" fill="#000"/><circle cx="160.7" cy="264" r="1.2" fill="#000"/><circle cx="165.7" cy="259.3" r="1.2" fill="#000"/><circle cx="169.7" cy="256.9" r="1.2" fill="#000"/><circle cx="173.1" cy="255.4" r="1.2" fill="#000"/><circle cx="176.9" cy="252.1" r="1.2" fill="#000"/><circle cx="179.3" cy="250.7" r="1.2" fill="#000"/><circle cx="182.3" cy="249.5" r="1.2" fill="#000"/><circle cx="184.5" cy="247.2" r="1.2" fill="#000"/><circle cx="186.2" cy="244" r="1.2" fill="#000"/><circle cx="189.3" cy="242.9" r="1.2" fill="#000"/><circle cx="191.1" cy="243.1" r="1.2" fill="#000"/><circle cx="195.4" cy="241.1" r="1.2" fill="#000"/><circle cx="198.9" cy="239.3" r="1.2" fill="#000"/><circle cx="202.1" cy="238.6" r="1.2" fill="#000"/><circle cx="206" cy="235.4" r="1.2" fill="#000"/><circle cx="210.7" cy="232.9" r="1.2" fill="#000"/><circle cx="216.4" cy="231.7" r="1.2" fill="#000"/><circle cx="221.7" cy="231" r="1.2" fill="#000"/>
<polyline points="27.9,332.6 33.6,334.6 37.1,336.9 41,342.1 46.1,345.4 51.4,347.1 55,347.9 57.8,347.9 61.6,347.9 64.1,348.1 66.6,350.5 70.2,352.9 73.6,354 76.7,354.7 79.8,355 83.1,357.2 86.4,360.3 90,361.1 93.6,361.7 98.9,365.4 104,366.9 111.4,367.9 119.3,369.3 126,370.3 130.7,370.7 136,371.7 143.6,372.1 147.8,372.4 151,373.6 153.3,374.3 157.6,375.4 162.9,375.7 167.6,374.6 171.9,374.6 176.7,374.6 180,371.7 183.6,370 187.6,369.3 191.9,369.1 197,368.3 204.1,366.9 211.1,367.4 217.9,368.3 223.6,368.6 229.7,369.3 232.9,368.9" fill="none" stroke="#f07070" stroke-width="0.6" stroke-linejoin="round"/><circle cx="27.9" cy="332.6" r="1.25" fill="#e80808"/><circle cx="33.6" cy="334.6" r="1.25" fill="#e80808"/><circle cx="37.1" cy="336.9" r="1.25" fill="#e80808"/><circle cx="41" cy="342.1" r="1.25" fill="#e80808"/><circle cx="46.1" cy="345.4" r="1.25" fill="#e80808"/><circle cx="51.4" cy="347.1" r="1.25" fill="#e80808"/><circle cx="55" cy="347.9" r="1.25" fill="#e80808"/><circle cx="57.8" cy="347.9" r="1.25" fill="#e80808"/><circle cx="61.6" cy="347.9" r="1.25" fill="#e80808"/><circle cx="64.1" cy="348.1" r="1.25" fill="#e80808"/><circle cx="66.6" cy="350.5" r="1.25" fill="#e80808"/><circle cx="70.2" cy="352.9" r="1.25" fill="#e80808"/><circle cx="73.6" cy="354" r="1.25" fill="#e80808"/><circle cx="76.7" cy="354.7" r="1.25" fill="#e80808"/><circle cx="79.8" cy="355" r="1.25" fill="#e80808"/><circle cx="83.1" cy="357.2" r="1.25" fill="#e80808"/><circle cx="86.4" cy="360.3" r="1.25" fill="#e80808"/><circle cx="90" cy="361.1" r="1.25" fill="#e80808"/><circle cx="93.6" cy="361.7" r="1.25" fill="#e80808"/><circle cx="98.9" cy="365.4" r="1.25" fill="#e80808"/><circle cx="104" cy="366.9" r="1.25" fill="#e80808"/><circle cx="111.4" cy="367.9" r="1.25" fill="#e80808"/><circle cx="119.3" cy="369.3" r="1.25" fill="#e80808"/><circle cx="126" cy="370.3" r="1.25" fill="#e80808"/><circle cx="130.7" cy="370.7" r="1.25" fill="#e80808"/><circle cx="136" cy="371.7" r="1.25" fill="#e80808"/><circle cx="143.6" cy="372.1" r="1.25" fill="#e80808"/><circle cx="147.8" cy="372.4" r="1.25" fill="#e80808"/><circle cx="151" cy="373.6" r="1.25" fill="#e80808"/><circle cx="153.3" cy="374.3" r="1.25" fill="#e80808"/><circle cx="157.6" cy="375.4" r="1.25" fill="#e80808"/><circle cx="162.9" cy="375.7" r="1.25" fill="#e80808"/><circle cx="167.6" cy="374.6" r="1.25" fill="#e80808"/><circle cx="171.9" cy="374.6" r="1.25" fill="#e80808"/><circle cx="176.7" cy="374.6" r="1.25" fill="#e80808"/><circle cx="180" cy="371.7" r="1.25" fill="#e80808"/><circle cx="183.6" cy="370" r="1.25" fill="#e80808"/><circle cx="187.6" cy="369.3" r="1.25" fill="#e80808"/><circle cx="191.9" cy="369.1" r="1.25" fill="#e80808"/><circle cx="197" cy="368.3" r="1.25" fill="#e80808"/><circle cx="204.1" cy="366.9" r="1.25" fill="#e80808"/><circle cx="211.1" cy="367.4" r="1.25" fill="#e80808"/><circle cx="217.9" cy="368.3" r="1.25" fill="#e80808"/><circle cx="223.6" cy="368.6" r="1.25" fill="#e80808"/><circle cx="229.7" cy="369.3" r="1.25" fill="#e80808"/><circle cx="232.9" cy="368.9" r="1.25" fill="#e80808"/>
<polyline points="27.9,332.6 32.9,334 35.7,336.9 37.8,341 40,346.4 43.2,353.4 47,359.4 49.6,364.3 52.4,366.4 55.7,368.3 58.6,365.7 60.4,367.4 62.4,370.3 66.7,374.6 71.9,378.6 76.1,379.3 80,380 82.1,382.6 84.7,385.4 87.1,387.1 91.4,388.3 97.1,390 102.1,390.7 108.3,391.1 114,390.3 116.9,386.9 120.7,389.7 125,389.3 130.3,388.6 135.7,386 141.1,385 145,381.3 151.4,381.4 156.4,381.4 160,379.7 163.9,378.3 167.6,376.9 171.4,374.6 176.1,373.1 179.3,369.3 182.9,366.4 187.9,362.6 194.3,361.4 200.6,358.8 207.4,358.9 212.1,355.7 217.4,353.6 222.9,354.3 227.4,354.3 231.1,354.6 233.6,354.3" fill="none" stroke="#7070f0" stroke-width="0.6" stroke-linejoin="round"/><path d="M27.9,331.1 L29.32,333.73 L26.47,333.73 Z" fill="#1414e0"/><path d="M32.9,332.5 L34.32,335.12 L31.47,335.12 Z" fill="#1414e0"/><path d="M35.7,335.4 L37.12,338.02 L34.28,338.02 Z" fill="#1414e0"/><path d="M37.8,339.5 L39.22,342.12 L36.38,342.12 Z" fill="#1414e0"/><path d="M40,344.9 L41.42,347.52 L38.58,347.52 Z" fill="#1414e0"/><path d="M43.2,351.9 L44.62,354.52 L41.78,354.52 Z" fill="#1414e0"/><path d="M47,357.9 L48.42,360.52 L45.58,360.52 Z" fill="#1414e0"/><path d="M49.6,362.8 L51.02,365.43 L48.18,365.43 Z" fill="#1414e0"/><path d="M52.4,364.9 L53.82,367.52 L50.98,367.52 Z" fill="#1414e0"/><path d="M55.7,366.8 L57.12,369.43 L54.28,369.43 Z" fill="#1414e0"/><path d="M58.6,364.2 L60.02,366.82 L57.18,366.82 Z" fill="#1414e0"/><path d="M60.4,365.9 L61.82,368.52 L58.98,368.52 Z" fill="#1414e0"/><path d="M62.4,368.8 L63.82,371.43 L60.98,371.43 Z" fill="#1414e0"/><path d="M66.7,373.1 L68.12,375.73 L65.28,375.73 Z" fill="#1414e0"/><path d="M71.9,377.1 L73.33,379.73 L70.48,379.73 Z" fill="#1414e0"/><path d="M76.1,377.8 L77.52,380.43 L74.67,380.43 Z" fill="#1414e0"/><path d="M80,378.5 L81.42,381.12 L78.58,381.12 Z" fill="#1414e0"/><path d="M82.1,381.1 L83.52,383.73 L80.67,383.73 Z" fill="#1414e0"/><path d="M84.7,383.9 L86.12,386.52 L83.28,386.52 Z" fill="#1414e0"/><path d="M87.1,385.6 L88.52,388.23 L85.67,388.23 Z" fill="#1414e0"/><path d="M91.4,386.8 L92.83,389.43 L89.98,389.43 Z" fill="#1414e0"/><path d="M97.1,388.5 L98.52,391.12 L95.67,391.12 Z" fill="#1414e0"/><path d="M102.1,389.2 L103.52,391.82 L100.67,391.82 Z" fill="#1414e0"/><path d="M108.3,389.6 L109.72,392.23 L106.88,392.23 Z" fill="#1414e0"/><path d="M114,388.8 L115.42,391.43 L112.58,391.43 Z" fill="#1414e0"/><path d="M116.9,385.4 L118.33,388.02 L115.48,388.02 Z" fill="#1414e0"/><path d="M120.7,388.2 L122.12,390.82 L119.28,390.82 Z" fill="#1414e0"/><path d="M125,387.8 L126.42,390.43 L123.58,390.43 Z" fill="#1414e0"/><path d="M130.3,387.1 L131.73,389.73 L128.88,389.73 Z" fill="#1414e0"/><path d="M135.7,384.5 L137.12,387.12 L134.27,387.12 Z" fill="#1414e0"/><path d="M141.1,383.5 L142.53,386.12 L139.67,386.12 Z" fill="#1414e0"/><path d="M145,379.8 L146.43,382.43 L143.57,382.43 Z" fill="#1414e0"/><path d="M151.4,379.9 L152.83,382.52 L149.97,382.52 Z" fill="#1414e0"/><path d="M156.4,379.9 L157.83,382.52 L154.97,382.52 Z" fill="#1414e0"/><path d="M160,378.2 L161.43,380.82 L158.57,380.82 Z" fill="#1414e0"/><path d="M163.9,376.8 L165.33,379.43 L162.47,379.43 Z" fill="#1414e0"/><path d="M167.6,375.4 L169.03,378.02 L166.17,378.02 Z" fill="#1414e0"/><path d="M171.4,373.1 L172.83,375.73 L169.97,375.73 Z" fill="#1414e0"/><path d="M176.1,371.6 L177.53,374.23 L174.67,374.23 Z" fill="#1414e0"/><path d="M179.3,367.8 L180.73,370.43 L177.88,370.43 Z" fill="#1414e0"/><path d="M182.9,364.9 L184.33,367.52 L181.47,367.52 Z" fill="#1414e0"/><path d="M187.9,361.1 L189.33,363.73 L186.47,363.73 Z" fill="#1414e0"/><path d="M194.3,359.9 L195.73,362.52 L192.88,362.52 Z" fill="#1414e0"/><path d="M200.6,357.3 L202.03,359.93 L199.17,359.93 Z" fill="#1414e0"/><path d="M207.4,357.4 L208.83,360.02 L205.97,360.02 Z" fill="#1414e0"/><path d="M212.1,354.2 L213.53,356.82 L210.67,356.82 Z" fill="#1414e0"/><path d="M217.4,352.1 L218.83,354.73 L215.97,354.73 Z" fill="#1414e0"/><path d="M222.9,352.8 L224.33,355.43 L221.47,355.43 Z" fill="#1414e0"/><path d="M227.4,352.8 L228.83,355.43 L225.97,355.43 Z" fill="#1414e0"/><path d="M231.1,353.1 L232.53,355.73 L229.67,355.73 Z" fill="#1414e0"/><path d="M233.6,352.8 L235.03,355.43 L232.17,355.43 Z" fill="#1414e0"/>
<rect x="30.4" y="222.4" width="97.3" height="37.8" fill="#fff" stroke="#999" stroke-width="1"/>
<line x1="36.4" y1="230.3" x2="58.9" y2="230.3" stroke="#666" stroke-width="0.6"/>
<circle cx="48.2" cy="230.3" r="1.2" fill="#000"/>
<text x="61.8" y="233.7" font-size="10" fill="#2a2a2a" stroke="#2a2a2a" stroke-width="0.2">Measure point 1</text>
<line x1="36.4" y1="242.6" x2="58.9" y2="242.6" stroke="#f08080" stroke-width="0.6"/>
<circle cx="48.2" cy="242.6" r="1.25" fill="#e80808"/>
<text x="61.8" y="246" font-size="10" fill="#2a2a2a" stroke="#2a2a2a" stroke-width="0.2">Measure point 2</text>
<line x1="36.4" y1="254.9" x2="58.9" y2="254.9" stroke="#8888e8" stroke-width="0.6"/>
<path d="M48.2,253.4 L49.62,256.02 L46.78,256.02 Z" fill="#1414e0"/>
<text x="61.8" y="258.3" font-size="10" fill="#2a2a2a" stroke="#2a2a2a" stroke-width="0.2">Measure point 3</text>
<text x="130.2" y="233.4" font-size="13.4" font-weight="bold" fill="#2a2a2a">(c)</text>
<g stroke="#484848" stroke-width="1.1" fill="none">
<path d="M307.3,222.4 V393.3 H538.3"/>
<path d="M307.3,222.4 h-3.2 M307.3,231.9 h-1.6 M307.3,241.39 h-3.2 M307.3,250.88 h-1.6 M307.3,260.38 h-3.2 M307.3,269.88 h-1.6 M307.3,279.37 h-3.2 M307.3,288.87 h-1.6 M307.3,298.36 h-3.2 M307.3,307.86 h-1.6 M307.3,317.35 h-3.2 M307.3,326.85 h-1.6 M307.3,336.34 h-3.2 M307.3,345.83 h-1.6 M307.3,355.33 h-3.2 M307.3,364.82 h-1.6 M307.3,374.32 h-3.2 M307.3,383.81 h-1.6 M307.3,393.31 h-3.2 M307.3,393.3 v3.2 M323.8,393.3 v1.6 M340.3,393.3 v3.2 M356.8,393.3 v1.6 M373.3,393.3 v3.2 M389.8,393.3 v1.6 M406.3,393.3 v3.2 M422.8,393.3 v1.6 M439.3,393.3 v3.2 M455.8,393.3 v1.6 M472.3,393.3 v3.2 M488.8,393.3 v1.6 M505.3,393.3 v3.2 M521.8,393.3 v1.6 M538.3,393.3 v3.2"/>
</g>
<g font-size="9" fill="#5a5a5a" stroke="#5a5a5a" stroke-width="0.15" font-family="Liberation Serif">
<text x="302.9" y="225.5" text-anchor="end">6</text>
<text x="302.9" y="244.49" text-anchor="end">4</text>
<text x="302.9" y="263.48" text-anchor="end">2</text>
<text x="302.9" y="282.47" text-anchor="end">0</text>
<text x="302.9" y="301.46" text-anchor="end">−2</text>
<text x="302.9" y="320.45" text-anchor="end">−4</text>
<text x="302.9" y="339.44" text-anchor="end">−6</text>
<text x="302.9" y="358.43" text-anchor="end">−8</text>
<text x="302.9" y="377.42" text-anchor="end">−10</text>
<text x="302.9" y="396.41" text-anchor="end">−12</text>
<text x="307.3" y="405.4" text-anchor="middle">0</text>
<text x="340.3" y="405.4" text-anchor="middle">50</text>
<text x="373.3" y="405.4" text-anchor="middle">100</text>
<text x="406.3" y="405.4" text-anchor="middle">150</text>
<text x="439.3" y="405.4" text-anchor="middle">200</text>
<text x="472.3" y="405.4" text-anchor="middle">250</text>
<text x="505.3" y="405.4" text-anchor="middle">300</text>
<text x="538.3" y="405.4" text-anchor="middle">350</text>
</g>
<text transform="translate(290.8,314.5) rotate(-90)" text-anchor="middle" font-size="10" fill="#2a2a2a" stroke="#2a2a2a" stroke-width="0.2">Displacement (cm)</text>
<text x="422.5" y="415" text-anchor="middle" font-size="10" fill="#2a2a2a" stroke="#2a2a2a" stroke-width="0.2">Monitoring duration (d)</text>
<polyline points="307.1,279.7 310.7,282.6 313.9,285.4 317.1,286 319.3,285 321,285.4 322.4,286.9 324.3,288.9 326.7,289.7 330,288.9 333.6,287.9 336.1,287.1 339.3,286.4 342.9,285 345.7,284.3 349.3,282.6 353.6,283.6 355.7,282.9 358.1,280.7 361,277.9 364.5,276 366.9,276.9 367.9,281.1 369.3,284.6 371.1,286.4 374,286.9 379.3,288.9 383.1,288.9 386.4,288.6 390,286.9 392.6,285 395.4,282.6 398.3,278.9 403.6,280.3 409.3,278.9 414.3,275.4 420,272.9 425.7,272.1 432.1,270.7 436.7,268.3 441,268.3 447.1,265.4 451.9,260.7 456.1,254.6 458.1,251.1 460.4,254 464.3,254.3 468.1,254.3 472.5,253.6 475.7,250.7 478.6,247.9 480.7,246.9 483.1,244.6 486,243.1 489.3,242.6 492.6,240.7 496.9,240 498.9,237.4 501.1,234.6 504.6,232.6 509.3,229.7 514.6,228.6 518.9,227.9" fill="none" stroke="#444" stroke-width="0.6" stroke-linejoin="round"/><circle cx="307.1" cy="279.7" r="1.2" fill="#000"/><circle cx="310.7" cy="282.6" r="1.2" fill="#000"/><circle cx="313.9" cy="285.4" r="1.2" fill="#000"/><circle cx="317.1" cy="286" r="1.2" fill="#000"/><circle cx="319.3" cy="285" r="1.2" fill="#000"/><circle cx="321" cy="285.4" r="1.2" fill="#000"/><circle cx="322.4" cy="286.9" r="1.2" fill="#000"/><circle cx="324.3" cy="288.9" r="1.2" fill="#000"/><circle cx="326.7" cy="289.7" r="1.2" fill="#000"/><circle cx="330" cy="288.9" r="1.2" fill="#000"/><circle cx="333.6" cy="287.9" r="1.2" fill="#000"/><circle cx="336.1" cy="287.1" r="1.2" fill="#000"/><circle cx="339.3" cy="286.4" r="1.2" fill="#000"/><circle cx="342.9" cy="285" r="1.2" fill="#000"/><circle cx="345.7" cy="284.3" r="1.2" fill="#000"/><circle cx="349.3" cy="282.6" r="1.2" fill="#000"/><circle cx="353.6" cy="283.6" r="1.2" fill="#000"/><circle cx="355.7" cy="282.9" r="1.2" fill="#000"/><circle cx="358.1" cy="280.7" r="1.2" fill="#000"/><circle cx="361" cy="277.9" r="1.2" fill="#000"/><circle cx="364.5" cy="276" r="1.2" fill="#000"/><circle cx="366.9" cy="276.9" r="1.2" fill="#000"/><circle cx="367.9" cy="281.1" r="1.2" fill="#000"/><circle cx="369.3" cy="284.6" r="1.2" fill="#000"/><circle cx="371.1" cy="286.4" r="1.2" fill="#000"/><circle cx="374" cy="286.9" r="1.2" fill="#000"/><circle cx="379.3" cy="288.9" r="1.2" fill="#000"/><circle cx="383.1" cy="288.9" r="1.2" fill="#000"/><circle cx="386.4" cy="288.6" r="1.2" fill="#000"/><circle cx="390" cy="286.9" r="1.2" fill="#000"/><circle cx="392.6" cy="285" r="1.2" fill="#000"/><circle cx="395.4" cy="282.6" r="1.2" fill="#000"/><circle cx="398.3" cy="278.9" r="1.2" fill="#000"/><circle cx="403.6" cy="280.3" r="1.2" fill="#000"/><circle cx="409.3" cy="278.9" r="1.2" fill="#000"/><circle cx="414.3" cy="275.4" r="1.2" fill="#000"/><circle cx="420" cy="272.9" r="1.2" fill="#000"/><circle cx="425.7" cy="272.1" r="1.2" fill="#000"/><circle cx="432.1" cy="270.7" r="1.2" fill="#000"/><circle cx="436.7" cy="268.3" r="1.2" fill="#000"/><circle cx="441" cy="268.3" r="1.2" fill="#000"/><circle cx="447.1" cy="265.4" r="1.2" fill="#000"/><circle cx="451.9" cy="260.7" r="1.2" fill="#000"/><circle cx="456.1" cy="254.6" r="1.2" fill="#000"/><circle cx="458.1" cy="251.1" r="1.2" fill="#000"/><circle cx="460.4" cy="254" r="1.2" fill="#000"/><circle cx="464.3" cy="254.3" r="1.2" fill="#000"/><circle cx="468.1" cy="254.3" r="1.2" fill="#000"/><circle cx="472.5" cy="253.6" r="1.2" fill="#000"/><circle cx="475.7" cy="250.7" r="1.2" fill="#000"/><circle cx="478.6" cy="247.9" r="1.2" fill="#000"/><circle cx="480.7" cy="246.9" r="1.2" fill="#000"/><circle cx="483.1" cy="244.6" r="1.2" fill="#000"/><circle cx="486" cy="243.1" r="1.2" fill="#000"/><circle cx="489.3" cy="242.6" r="1.2" fill="#000"/><circle cx="492.6" cy="240.7" r="1.2" fill="#000"/><circle cx="496.9" cy="240" r="1.2" fill="#000"/><circle cx="498.9" cy="237.4" r="1.2" fill="#000"/><circle cx="501.1" cy="234.6" r="1.2" fill="#000"/><circle cx="504.6" cy="232.6" r="1.2" fill="#000"/><circle cx="509.3" cy="229.7" r="1.2" fill="#000"/><circle cx="514.6" cy="228.6" r="1.2" fill="#000"/><circle cx="518.9" cy="227.9" r="1.2" fill="#000"/>
<polyline points="307.1,279.7 311.9,280.7 314.3,284.3 319,288.6 321.9,291.1 326.1,295 329,296.9 332.9,300 336.7,302.6 339.6,306.4 344.7,307.9 349,309.7 352.9,312.6 357.1,315 361,315.3 363.4,314.8 365.8,314 368.6,314 370.3,317.1 371.7,322.6 373.6,326 377.1,328.3 379.7,333.1 382.9,336.4 386.4,337.9 390,340.3 394,341.7 397.9,343.1 402.1,345.4 405.4,346.9 409.3,350.3 416,354 422.9,356.4 424.3,359.7 430,362.1 436,365.7 440,367.9 445.7,371.4 451.7,372.9 455.4,371.7 457.9,373.1 460.7,375.7 467.3,378 476.5,380.3 482.6,382.8 490.7,384.4 497.8,386.9 502.6,387.3 506.4,387.8 511.1,387.7 516.2,387.7 522,388.2" fill="none" stroke="#f07070" stroke-width="0.6" stroke-linejoin="round"/><circle cx="307.1" cy="279.7" r="1.25" fill="#e80808"/><circle cx="311.9" cy="280.7" r="1.25" fill="#e80808"/><circle cx="314.3" cy="284.3" r="1.25" fill="#e80808"/><circle cx="319" cy="288.6" r="1.25" fill="#e80808"/><circle cx="321.9" cy="291.1" r="1.25" fill="#e80808"/><circle cx="326.1" cy="295" r="1.25" fill="#e80808"/><circle cx="329" cy="296.9" r="1.25" fill="#e80808"/><circle cx="332.9" cy="300" r="1.25" fill="#e80808"/><circle cx="336.7" cy="302.6" r="1.25" fill="#e80808"/><circle cx="339.6" cy="306.4" r="1.25" fill="#e80808"/><circle cx="344.7" cy="307.9" r="1.25" fill="#e80808"/><circle cx="349" cy="309.7" r="1.25" fill="#e80808"/><circle cx="352.9" cy="312.6" r="1.25" fill="#e80808"/><circle cx="357.1" cy="315" r="1.25" fill="#e80808"/><circle cx="361" cy="315.3" r="1.25" fill="#e80808"/><circle cx="363.4" cy="314.8" r="1.25" fill="#e80808"/><circle cx="365.8" cy="314" r="1.25" fill="#e80808"/><circle cx="368.6" cy="314" r="1.25" fill="#e80808"/><circle cx="370.3" cy="317.1" r="1.25" fill="#e80808"/><circle cx="371.7" cy="322.6" r="1.25" fill="#e80808"/><circle cx="373.6" cy="326" r="1.25" fill="#e80808"/><circle cx="377.1" cy="328.3" r="1.25" fill="#e80808"/><circle cx="379.7" cy="333.1" r="1.25" fill="#e80808"/><circle cx="382.9" cy="336.4" r="1.25" fill="#e80808"/><circle cx="386.4" cy="337.9" r="1.25" fill="#e80808"/><circle cx="390" cy="340.3" r="1.25" fill="#e80808"/><circle cx="394" cy="341.7" r="1.25" fill="#e80808"/><circle cx="397.9" cy="343.1" r="1.25" fill="#e80808"/><circle cx="402.1" cy="345.4" r="1.25" fill="#e80808"/><circle cx="405.4" cy="346.9" r="1.25" fill="#e80808"/><circle cx="409.3" cy="350.3" r="1.25" fill="#e80808"/><circle cx="416" cy="354" r="1.25" fill="#e80808"/><circle cx="422.9" cy="356.4" r="1.25" fill="#e80808"/><circle cx="424.3" cy="359.7" r="1.25" fill="#e80808"/><circle cx="430" cy="362.1" r="1.25" fill="#e80808"/><circle cx="436" cy="365.7" r="1.25" fill="#e80808"/><circle cx="440" cy="367.9" r="1.25" fill="#e80808"/><circle cx="445.7" cy="371.4" r="1.25" fill="#e80808"/><circle cx="451.7" cy="372.9" r="1.25" fill="#e80808"/><circle cx="455.4" cy="371.7" r="1.25" fill="#e80808"/><circle cx="457.9" cy="373.1" r="1.25" fill="#e80808"/><circle cx="460.7" cy="375.7" r="1.25" fill="#e80808"/><circle cx="467.3" cy="378" r="1.25" fill="#e80808"/><circle cx="476.5" cy="380.3" r="1.25" fill="#e80808"/><circle cx="482.6" cy="382.8" r="1.25" fill="#e80808"/><circle cx="490.7" cy="384.4" r="1.25" fill="#e80808"/><circle cx="497.8" cy="386.9" r="1.25" fill="#e80808"/><circle cx="502.6" cy="387.3" r="1.25" fill="#e80808"/><circle cx="506.4" cy="387.8" r="1.25" fill="#e80808"/><circle cx="511.1" cy="387.7" r="1.25" fill="#e80808"/><circle cx="516.2" cy="387.7" r="1.25" fill="#e80808"/><circle cx="522" cy="388.2" r="1.25" fill="#e80808"/>
<polyline points="307.1,279.7 312.1,284.6 315.7,287.4 319.6,292.1 322.9,296.4 325.7,300.3 330.4,304.6 334.3,306.9 337.9,310.3 342.1,314.3 347.1,318.6 352.9,321.4 358.6,324 362.6,327.1 365.4,330.3 367.9,334.6 369.3,336.9 373.1,339.7 377.4,342.6 382.1,345 386.9,347.9 393.1,351.1 400.7,355.4 406.5,357.5 413.1,359.7 417.9,364.6 422.9,366 427.4,368.6 431.7,370.3 439.7,373.1 444,375 452.1,377.4 460,380.3 466.9,381.8 473.9,383.3 479.3,384.4 484.1,386.9 489.8,386.9 494.5,388.4 499.1,389.7 503,389.6 506,390.5 509.4,390 514.5,389.7 518.2,390.5 522,389.9 524.8,390.6" fill="none" stroke="#7070f0" stroke-width="0.6" stroke-linejoin="round"/><path d="M307.1,278.2 L308.53,280.82 L305.68,280.82 Z" fill="#1414e0"/><path d="M312.1,283.1 L313.53,285.73 L310.68,285.73 Z" fill="#1414e0"/><path d="M315.7,285.9 L317.12,288.52 L314.27,288.52 Z" fill="#1414e0"/><path d="M319.6,290.6 L321.03,293.23 L318.18,293.23 Z" fill="#1414e0"/><path d="M322.9,294.9 L324.32,297.52 L321.47,297.52 Z" fill="#1414e0"/><path d="M325.7,298.8 L327.12,301.43 L324.27,301.43 Z" fill="#1414e0"/><path d="M330.4,303.1 L331.82,305.73 L328.97,305.73 Z" fill="#1414e0"/><path d="M334.3,305.4 L335.73,308.02 L332.88,308.02 Z" fill="#1414e0"/><path d="M337.9,308.8 L339.32,311.43 L336.47,311.43 Z" fill="#1414e0"/><path d="M342.1,312.8 L343.53,315.43 L340.68,315.43 Z" fill="#1414e0"/><path d="M347.1,317.1 L348.53,319.73 L345.68,319.73 Z" fill="#1414e0"/><path d="M352.9,319.9 L354.32,322.52 L351.47,322.52 Z" fill="#1414e0"/><path d="M358.6,322.5 L360.03,325.12 L357.18,325.12 Z" fill="#1414e0"/><path d="M362.6,325.6 L364.03,328.23 L361.18,328.23 Z" fill="#1414e0"/><path d="M365.4,328.8 L366.82,331.43 L363.97,331.43 Z" fill="#1414e0"/><path d="M367.9,333.1 L369.32,335.73 L366.47,335.73 Z" fill="#1414e0"/><path d="M369.3,335.4 L370.73,338.02 L367.88,338.02 Z" fill="#1414e0"/><path d="M373.1,338.2 L374.53,340.82 L371.68,340.82 Z" fill="#1414e0"/><path d="M377.4,341.1 L378.82,343.73 L375.97,343.73 Z" fill="#1414e0"/><path d="M382.1,343.5 L383.53,346.12 L380.68,346.12 Z" fill="#1414e0"/><path d="M386.9,346.4 L388.32,349.02 L385.47,349.02 Z" fill="#1414e0"/><path d="M393.1,349.6 L394.53,352.23 L391.68,352.23 Z" fill="#1414e0"/><path d="M400.7,353.9 L402.12,356.52 L399.27,356.52 Z" fill="#1414e0"/><path d="M406.5,356 L407.93,358.62 L405.07,358.62 Z" fill="#1414e0"/><path d="M413.1,358.2 L414.53,360.82 L411.68,360.82 Z" fill="#1414e0"/><path d="M417.9,363.1 L419.32,365.73 L416.47,365.73 Z" fill="#1414e0"/><path d="M422.9,364.5 L424.32,367.12 L421.47,367.12 Z" fill="#1414e0"/><path d="M427.4,367.1 L428.82,369.73 L425.97,369.73 Z" fill="#1414e0"/><path d="M431.7,368.8 L433.12,371.43 L430.27,371.43 Z" fill="#1414e0"/><path d="M439.7,371.6 L441.12,374.23 L438.27,374.23 Z" fill="#1414e0"/><path d="M444,373.5 L445.43,376.12 L442.57,376.12 Z" fill="#1414e0"/><path d="M452.1,375.9 L453.53,378.52 L450.68,378.52 Z" fill="#1414e0"/><path d="M460,378.8 L461.43,381.43 L458.57,381.43 Z" fill="#1414e0"/><path d="M466.9,380.3 L468.32,382.93 L465.47,382.93 Z" fill="#1414e0"/><path d="M473.9,381.8 L475.32,384.43 L472.47,384.43 Z" fill="#1414e0"/><path d="M479.3,382.9 L480.73,385.52 L477.88,385.52 Z" fill="#1414e0"/><path d="M484.1,385.4 L485.53,388.02 L482.68,388.02 Z" fill="#1414e0"/><path d="M489.8,385.4 L491.23,388.02 L488.38,388.02 Z" fill="#1414e0"/><path d="M494.5,386.9 L495.93,389.52 L493.07,389.52 Z" fill="#1414e0"/><path d="M499.1,388.2 L500.53,390.82 L497.68,390.82 Z" fill="#1414e0"/><path d="M503,388.1 L504.43,390.73 L501.57,390.73 Z" fill="#1414e0"/><path d="M506,389 L507.43,391.62 L504.57,391.62 Z" fill="#1414e0"/><path d="M509.4,388.5 L510.82,391.12 L507.97,391.12 Z" fill="#1414e0"/><path d="M514.5,388.2 L515.92,390.82 L513.08,390.82 Z" fill="#1414e0"/><path d="M518.2,389 L519.62,391.62 L516.78,391.62 Z" fill="#1414e0"/><path d="M522,388.4 L523.42,391.02 L520.58,391.02 Z" fill="#1414e0"/><path d="M524.8,389.1 L526.22,391.73 L523.38,391.73 Z" fill="#1414e0"/>
<rect x="309.3" y="222.4" width="98.6" height="37.8" fill="#fff" stroke="#999" stroke-width="1"/>
<line x1="315.3" y1="230.3" x2="337.8" y2="230.3" stroke="#666" stroke-width="0.6"/>
<circle cx="327.1" cy="230.3" r="1.2" fill="#000"/>
<text x="340.7" y="233.7" font-size="10" fill="#2a2a2a" stroke="#2a2a2a" stroke-width="0.2">Measure point 1</text>
<line x1="315.3" y1="242.6" x2="337.8" y2="242.6" stroke="#f08080" stroke-width="0.6"/>
<circle cx="327.1" cy="242.6" r="1.25" fill="#e80808"/>
<text x="340.7" y="246" font-size="10" fill="#2a2a2a" stroke="#2a2a2a" stroke-width="0.2">Measure point 2</text>
<line x1="315.3" y1="254.9" x2="337.8" y2="254.9" stroke="#8888e8" stroke-width="0.6"/>
<path d="M327.1,253.4 L328.53,256.02 L325.68,256.02 Z" fill="#1414e0"/>
<text x="340.7" y="258.3" font-size="10" fill="#2a2a2a" stroke="#2a2a2a" stroke-width="0.2">Measure point 3</text>
<text x="418.2" y="233.2" font-size="13.4" font-weight="bold" fill="#2a2a2a">(d)</text>
</svg></body></html>
